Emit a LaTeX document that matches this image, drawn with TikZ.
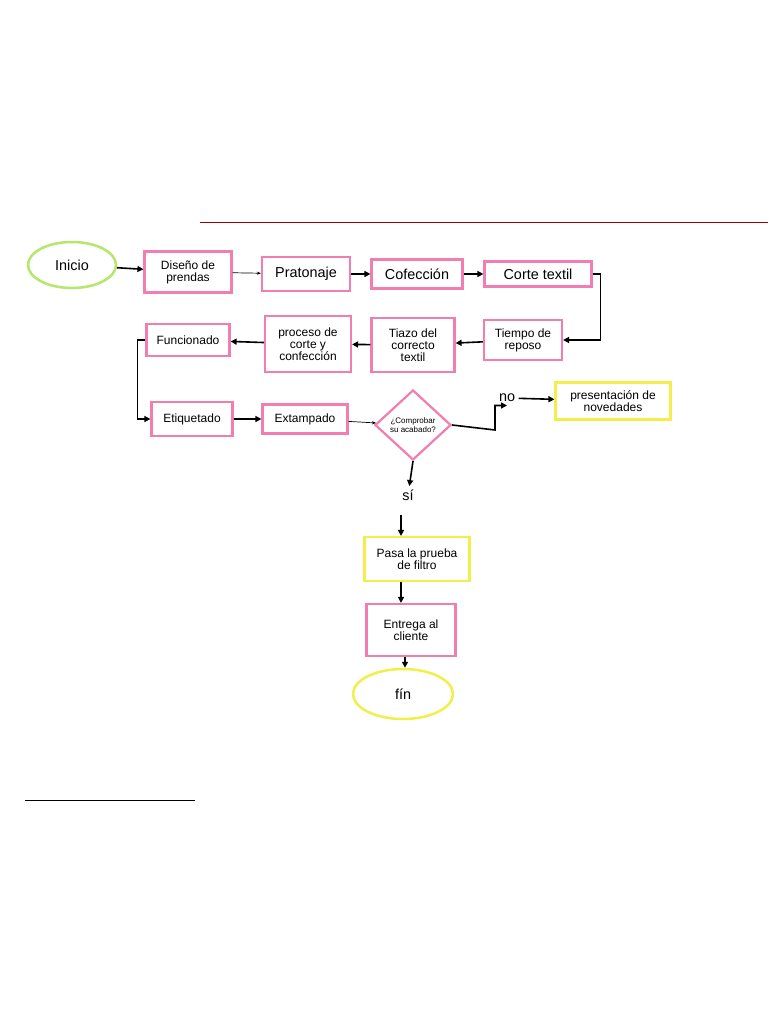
\documentclass[tikz,border=0pt]{standalone}
\usepackage{fontspec}
\setmainfont{Liberation Sans}
\usetikzlibrary{shapes.geometric,arrows.meta}
\definecolor{pk}{HTML}{F27DB0}
\definecolor{yl}{HTML}{F2EE4A}
\definecolor{gr}{HTML}{B5E86A}
\begin{document}
\begin{tikzpicture}[x=1pt,y=-1pt,
 pbox/.style={draw=pk,line width=2.2pt,rectangle,align=center,inner sep=2pt,font=\large\linespread{0.85}\selectfont},
 ybox/.style={draw=yl,line width=2.2pt,rectangle,align=center,inner sep=2pt,font=\large\linespread{0.85}\selectfont},
 arr/.style={-{Triangle[length=6pt,width=6pt]},line width=1.6pt,black},
 thin/.style={-{Stealth[length=4pt]},line width=0.7pt,black}]
\useasboundingbox (0,0) rectangle (768,1024);
\fill[white] (0,0) rectangle (768,1024);
\draw[red!60!black,line width=0.8pt] (200,222) -- (768,222);
\draw[black,line width=0.8pt] (25,800) -- (195,800);
\node[ellipse,draw=gr,line width=2.5pt,minimum width=88pt,minimum height=46pt,font=\Large] (ini) at (72,265) {Inicio};
\node[pbox,minimum width=87pt,minimum height=41pt] (dis) at (188,272) {Diseño de\\prendas};
\node[pbox,minimum width=88pt,minimum height=34pt,font=\Large] (pat) at (306,274) {Pratonaje};
\node[pbox,minimum width=91pt,minimum height=29pt,font=\Large] (cof) at (417,274) {Cofección};
\node[pbox,minimum width=107pt,minimum height=25pt,font=\Large] (cor) at (538,274) {Corte textil};
\node[pbox,minimum width=78pt,minimum height=40pt] (tie) at (523,340) {Tiempo de\\reposo};
\node[pbox,minimum width=83pt,minimum height=54pt] (tia) at (413,345) {Tiazo del\\correcto\\textil};
\node[pbox,minimum width=86pt,minimum height=56pt] (pro) at (308,344) {proceso de\\corte y\\confección};
\node[pbox,minimum width=83pt,minimum height=32pt] (fun) at (188,340) {Funcionado};
\node[pbox,minimum width=81pt,minimum height=34pt] (eti) at (192,419) {Etiquetado};
\node[pbox,minimum width=85pt,minimum height=29pt] (ext) at (305,419) {Extampado};
\node[diamond,draw=pk,line width=2.2pt,minimum width=76pt,minimum height=70pt,align=center,inner sep=0pt,font=\footnotesize] (dia) at (413,425) {¿Comprobar\\su acabado?};
\node[font=\Large] (no) at (507,398) {no};
\node[ybox,minimum width=115pt,minimum height=37pt] (pre) at (613,401) {presentación de\\novedades};
\node[font=\Large] (si) at (408,495) {sí};
\coordinate (sib) at (401,515);
\node[ybox,minimum width=105pt,minimum height=44pt] (pas) at (417,559) {Pasa la prueba\\de filtro};
\node[pbox,minimum width=89pt,minimum height=52pt] (ent) at (411,630) {Entrega al\\cliente};
\node[ellipse,draw=yl,line width=2.5pt,minimum width=100pt,minimum height=50pt,font=\Large] (fin) at (403,694) {fín};
\draw[arr] (ini) -- (dis);
\draw[thin] (dis) -- (pat);
\draw[arr] (pat) -- (cof);
\draw[arr] (cof) -- (cor);
\draw[arr] (cor.east) -- ++(8,0) |- (tie.east);
\draw[arr] (tie) -- (tia);
\draw[arr] (tia) -- (pro);
\draw[arr] (pro) -- (fun);
\draw[arr] (fun.west) -- ++(-8,0) |- (eti.west);
\draw[arr] (eti) -- (ext);
\draw[thin] (ext) -- (dia);
\draw[arr] (dia.east) -- (495,430) |- (no.south);
\draw[arr] (no) -- (pre);
\draw[arr] (dia.south) -- (si);
\draw[arr] (sib) -- (pas.north -| sib);
\draw[arr] (pas.south -| 401,0) -- (ent.north -| 401,0);
\draw[arr] (ent.south -| 405,0) -- (fin.north -| 405,0);
\end{tikzpicture}
\end{document}
